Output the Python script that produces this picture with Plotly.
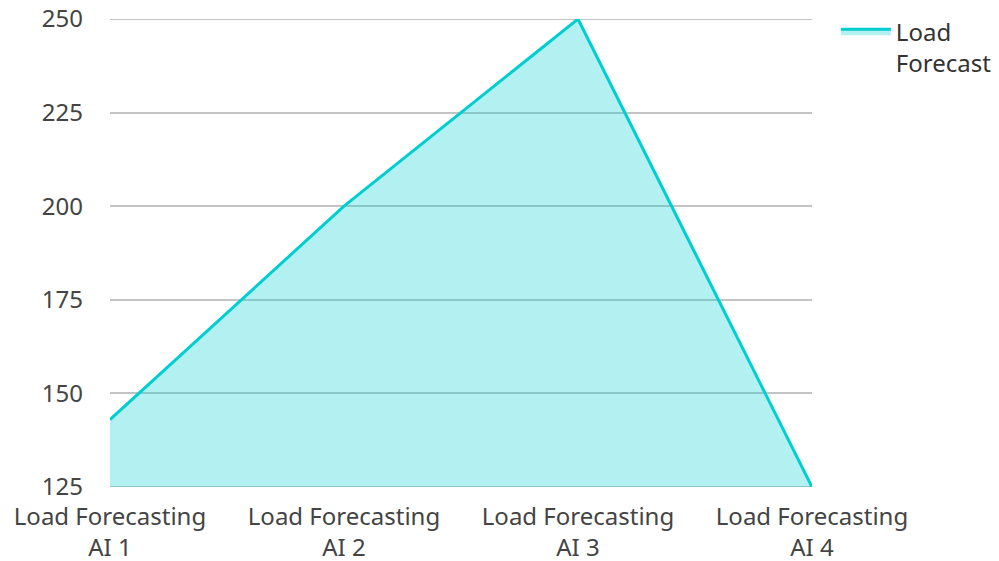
import plotly.graph_objects as go

categories = ["Load Forecasting<br>AI 1", "Load Forecasting<br>AI 2", "Load Forecasting<br>AI 3", "Load Forecasting<br>AI 4"]
values = [143, 200, 250, 125]
series_name = "Load<br>Forecast"
y_ticks = [125, 150, 175, 200, 225, 250]

GRID = "#C4C4C4"

fig = go.Figure()
fig.add_trace(go.Scatter(
    x=list(range(len(categories))), y=values, name=series_name,
    mode="lines", fill="tozeroy",
    line=dict(color="#00CED1", width=3),
    fillcolor="rgba(0,206,209,0.3)",
    cliponaxis=False,
))

# edge gridlines (Plotly omits grid lines lying on the plot edges)
for yv in (y_ticks[0], y_ticks[-1]):
    fig.add_shape(type="line", xref="paper", x0=0, x1=1, yref="y", y0=yv, y1=yv,
                  line=dict(color=GRID, width=2), layer="below")

fig.update_layout(
    width=999, height=561,
    margin=dict(l=102, r=195, t=11, b=82, autoexpand=False),
    plot_bgcolor="white", paper_bgcolor="white",
    font=dict(family="Noto Sans", size=24, color="#444444"),
    showlegend=True,
    legend=dict(x=1.034, y=1.021, xanchor="left", yanchor="top", valign="top",
                font=dict(size=24, color="#333333"), itemwidth=50),
    xaxis=dict(
        tickmode="array", tickvals=list(range(len(categories))), ticktext=categories,
        range=[0, 3], showgrid=False, zeroline=False, showline=False,
        ticks="", ticklabelstandoff=13, automargin=False, ticklabeloverflow="allow",
    ),
    yaxis=dict(
        range=[125, 250], tickvals=y_ticks, showgrid=True, gridcolor=GRID, gridwidth=1.5,
        zeroline=False, showline=False, ticks="", ticklabelstandoff=26, automargin=False,
        ticklabeloverflow="allow",
    ),
)

fig.write_html("out.html")
